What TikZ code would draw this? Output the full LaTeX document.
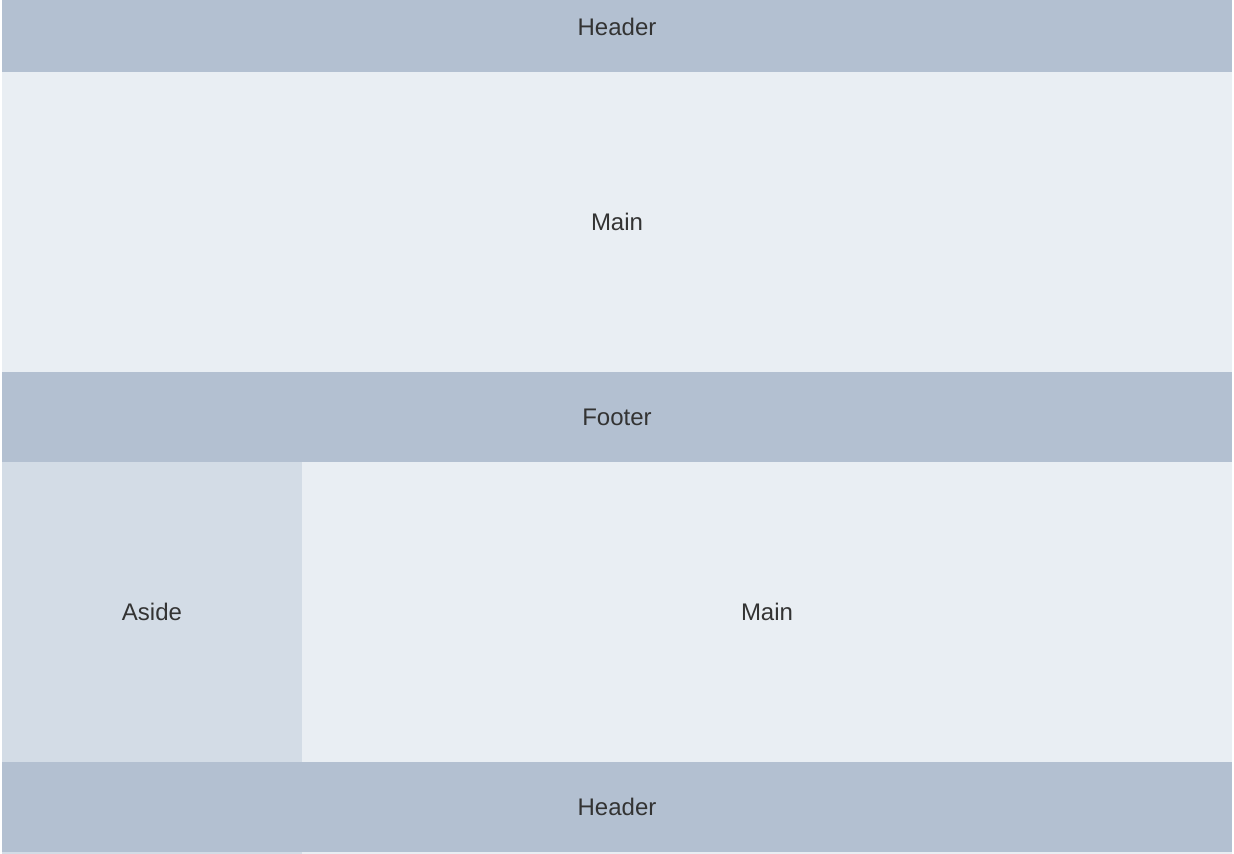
\documentclass[tikz,border=0pt]{standalone}
\usepackage{fontspec}
\setmainfont{Liberation Sans}
\usetikzlibrary{positioning}
\definecolor{barcol}{HTML}{B3C0D1}
\definecolor{maincol}{HTML}{E9EEF3}
\definecolor{asidecol}{HTML}{D3DCE6}
\definecolor{txtcol}{HTML}{333333}
\begin{document}
\begin{tikzpicture}[x=0.5pt, y=-0.5pt, node distance={0pt},
  box/.style = {inner sep=0pt, outer sep=0pt, text=txtcol, font=\fontsize{12}{14}\selectfont},
  bar/.style = {box, fill=barcol, minimum width=615pt, minimum height=45pt},
  mainbox/.style = {box, fill=maincol, minimum height=150pt},
  asidebox/.style = {box, fill=asidecol, minimum width=150pt, minimum height=150pt}]
\useasboundingbox (0,0) rectangle (1234,853);
\clip (0,0) rectangle (1234,853);

% first container
\node[bar] (header) at (617,27) {Header};
\node[mainbox, minimum width=615pt] (main) [below=of header] {Main};
\node[bar] (footer) [below=of main] {Footer};

% second container
\node[asidebox, anchor=north west] (aside) at (footer.south west) {Aside};
\node[mainbox, minimum width=465pt] (content) [right=of aside] {Main};
\node[bar, anchor=north west] (header2) at (aside.south west) {Header};

% start of next row
\fill[asidecol] (header2.south west) rectangle ++(300,2);
\fill[maincol] (header2.south west) ++(300,0) rectangle ++(930,2);
\end{tikzpicture}
\end{document}
